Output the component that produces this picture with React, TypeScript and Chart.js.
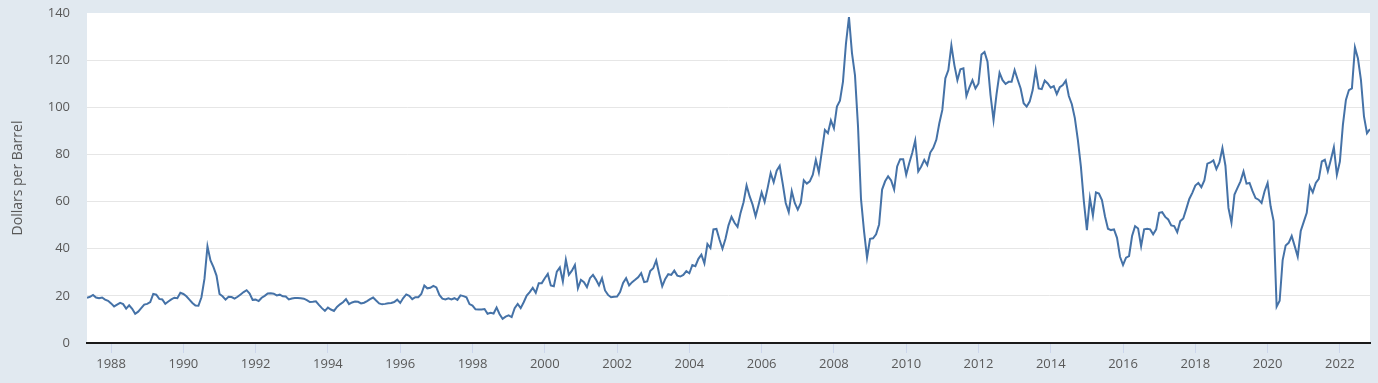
import React, { useEffect, useRef } from 'react';
import { Chart, registerables } from 'chart.js';

Chart.register(...registerables);

// Monthly series, first value = May 1987
const FIRST_YEAR = 1987;
const FIRST_MONTH_INDEX = 4; // May (0-based)

const PRICES_1987_1992 = [
  19.2, 19.6, 20.4, 19.3, 19.0, 19.3, 18.4, 17.9, 16.8, 15.5,
  16.3, 17.0, 16.5, 14.6, 16.0, 14.5, 12.4, 13.3, 14.8, 16.3,
  16.6, 17.4, 20.8, 20.5, 18.7, 18.5, 16.6, 17.6, 18.5, 19.2,
  19.0, 21.3, 20.8, 19.8, 18.4, 17.0, 15.9, 15.8, 19.4, 27.2,
  41.0, 35.0, 32.2, 28.6, 20.8, 19.8, 18.4, 19.6, 19.5, 18.8,
  19.6, 20.6, 21.6, 22.4, 21.0, 18.3, 18.4, 17.8, 19.2, 20.0,
  21.0, 21.1, 20.9, 20.2, 20.5, 19.8, 19.7, 18.5,
];

const PRICES_1993_1997 = [
  18.9, 19.1, 19.1, 19.0, 18.8, 18.2, 17.4, 17.5, 17.7, 16.2,
  14.8, 13.6, 15.0, 14.2, 13.6, 15.3, 16.4, 17.3, 18.6, 16.5,
  17.2, 17.6, 17.5, 16.8, 17.1, 17.8, 18.6, 19.3, 18.0, 16.8,
  16.4, 16.6, 16.9, 17.0, 17.4, 18.4, 17.0, 19.1, 20.6, 20.0,
  18.6, 19.4, 19.4, 20.8, 24.4, 23.2, 23.4, 24.2, 23.6, 20.4,
  18.8, 18.5, 19.0, 18.5, 19.0, 18.3, 20.2, 19.9, 19.4, 16.5,
];

const PRICES_1998_2002 = [
  15.9, 14.3, 14.2, 14.2, 14.4, 12.4, 12.8, 12.5, 15.0, 12.2,
  10.3, 11.2, 11.7, 11.0, 14.8, 16.6, 14.8, 17.3, 20.1, 21.6,
  23.4, 21.3, 25.4, 25.4, 27.5, 29.3, 24.4, 24.1, 30.3, 32.1,
  26.1, 35.3, 28.9, 30.7, 33.1, 23.2, 26.8, 25.8, 23.7, 27.5,
  28.9, 26.9, 24.4, 27.5, 22.3, 20.4, 19.4, 19.6, 19.7, 21.6,
  25.5, 27.5, 24.4, 25.8, 26.8, 27.9, 29.6, 25.8, 26.1, 30.5,
];

const PRICES_2003_2007 = [
  31.7, 35.0, 29.3, 24.1, 27.2, 29.2, 28.9, 30.7, 28.6, 28.2,
  28.9, 30.5, 29.6, 33.1, 32.6, 35.7, 37.5, 33.8, 42.0, 40.3,
  48.2, 48.4, 43.9, 40.0, 44.2, 49.9, 53.5, 51.0, 49.3, 55.2,
  59.7, 66.8, 62.3, 58.7, 53.8, 58.7, 63.9, 59.9, 65.8, 72.1,
  68.2, 73.1, 75.2, 67.6, 59.4, 55.5, 64.4, 59.4, 56.6, 59.4,
  69.0, 67.6, 68.6, 71.4, 77.7, 72.4, 81.3, 90.4, 89.0, 94.4,
];

const PRICES_2008_2012 = [
  91.1, 100.3, 102.8, 110.8, 127.0, 138.3, 123.0, 113.5, 92.0, 61.0,
  47.5, 36.2, 44.2, 44.4, 46.1, 50.3, 65.1, 68.6, 70.7, 69.0,
  65.1, 74.9, 78.0, 78.0, 71.4, 76.3, 80.6, 85.9, 72.8, 74.9,
  77.7, 75.5, 80.8, 82.8, 86.2, 93.2, 98.9, 112.3, 115.8, 126.3,
  117.9, 111.5, 116.1, 116.5, 104.8, 108.5, 111.5, 108.0, 110.1, 122.4,
  123.5, 119.3, 105.2, 94.6, 105.6, 114.6, 111.5, 109.9, 110.8, 110.8,
];

const PRICES_2013_2017 = [
  115.8, 111.8, 108.0, 101.7, 100.3, 102.4, 107.3, 115.8, 108.0, 107.7,
  111.3, 110.1, 108.3, 109.0, 105.6, 108.5, 109.4, 111.3, 104.8, 101.3,
  95.4, 86.2, 74.9, 60.0, 47.9, 61.5, 54.1, 63.9, 63.4, 60.6,
  53.8, 48.5, 47.9, 48.2, 44.6, 36.6, 33.1, 36.2, 36.9, 45.4,
  49.6, 48.6, 41.1, 48.2, 48.5, 48.2, 46.1, 48.2, 55.2, 55.5,
  53.5, 52.4, 49.9, 49.6, 47.0, 51.7, 52.8, 56.9, 61.1, 63.7,
];

const PRICES_2018_2022 = [
  66.8, 67.9, 66.1, 69.0, 76.1, 76.6, 77.5, 73.8, 76.6, 82.7,
  75.2, 57.3, 51.0, 63.0, 65.8, 68.6, 72.8, 67.6, 67.9, 64.4,
  61.5, 60.8, 59.4, 64.4, 67.9, 58.0, 51.7, 15.4, 17.9, 35.2,
  41.4, 42.5, 45.4, 41.1, 36.6, 47.5, 51.4, 55.2, 66.5, 63.9,
  67.9, 69.6, 77.0, 77.7, 72.8, 77.7, 83.0, 71.4, 77.0, 92.5,
  103.1, 107.3, 108.0, 125.4, 120.7, 111.5, 96.1, 89.0, 90.7,
];

const PRICES: number[] = [
  ...PRICES_1987_1992,
  ...PRICES_1993_1997,
  ...PRICES_1998_2002,
  ...PRICES_2003_2007,
  ...PRICES_2008_2012,
  ...PRICES_2013_2017,
  ...PRICES_2018_2022,
];

const Y_TICKS = [0, 20, 40, 60, 80, 100, 120, 140];
const X_TICK_YEARS = [
  1988, 1990, 1992, 1994, 1996, 1998, 2000, 2002, 2004,
  2006, 2008, 2010, 2012, 2014, 2016, 2018, 2020, 2022,
];
const Y_AXIS_TITLE = 'Dollars per Barrel';

const TEXT_COLOR = '#595959';
const LINE_COLOR = '#4572a7';
const BG_COLOR = '#e1e9f0';
const FONT = 'Open Sans';

export default function App() {
  const ref = useRef<HTMLCanvasElement | null>(null);

  useEffect(() => {
    if (!ref.current) return;
    const points = PRICES.map((v, i) => ({
      x: FIRST_YEAR + (FIRST_MONTH_INDEX + i) / 12,
      y: v,
    }));
    const xMin = FIRST_YEAR + FIRST_MONTH_INDEX / 12;
    const xMax = FIRST_YEAR + (FIRST_MONTH_INDEX + PRICES.length - 1) / 12;

    const plotBg = {
      id: 'plotBg',
      beforeDraw(c: any) {
        const { ctx, chartArea: a } = c;
        ctx.save();
        ctx.fillStyle = '#ffffff';
        ctx.fillRect(a.left, a.top, a.right - a.left, a.bottom - a.top);
        ctx.restore();
      },
    };

    const chart = new Chart(ref.current, {
      type: 'line',
      data: {
        datasets: [
          {
            data: points,
            borderColor: LINE_COLOR,
            borderWidth: 2,
            pointRadius: 0,
            tension: 0,
            fill: false,
          },
        ],
      },
      options: {
        animation: false,
        responsive: false,
        maintainAspectRatio: false,
        layout: { padding: { top: 13, right: 8, left: 0, bottom: 0 } },
        plugins: {
          legend: { display: false },
          tooltip: { enabled: false },
        },
        scales: {
          x: {
            type: 'linear',
            min: xMin,
            max: xMax,
            afterBuildTicks: (s: any) => {
              s.ticks = X_TICK_YEARS.map((v) => ({ value: v }));
            },
            afterFit: (s: any) => {
              s.height = 40;
              s.paddingLeft = 0;
              s.paddingRight = 0;
            },
            grid: {
              drawOnChartArea: false,
              drawTicks: true,
              tickLength: 10,
              color: '#ccd6eb',
              lineWidth: 1,
            },
            border: { display: true, color: '#1a1a1a', width: 2 },
            ticks: {
              color: TEXT_COLOR,
              font: { family: FONT, size: 13 },
              padding: 3,
              maxRotation: 0,
              autoSkip: false,
              callback: (v: any) => String(v),
            },
          },
          y: {
            min: 0,
            max: 140,
            afterBuildTicks: (s: any) => {
              s.ticks = Y_TICKS.map((v) => ({ value: v }));
            },
            afterFit: (s: any) => {
              s.width = 87;
              s.paddingTop = 0;
              s.paddingBottom = 0;
            },
            grid: {
              color: (ctx: any) =>
                ctx.tick && ctx.tick.value === 140 ? 'rgba(0,0,0,0)' : '#e6e6e6',
              drawTicks: false,
              lineWidth: 1,
            },
            border: { display: false },
            ticks: {
              color: TEXT_COLOR,
              font: { family: FONT, size: 13 },
              padding: 17,
              callback: (v: any) => String(v),
            },
            title: {
              display: true,
              text: Y_AXIS_TITLE,
              color: TEXT_COLOR,
              font: { family: FONT, size: 14 },
              padding: { top: 10, bottom: 0 },
            },
          },
        },
      },
      plugins: [plotBg],
    } as any);

    return () => chart.destroy();
  }, []);

  return (
    <div
      style={{
        position: 'absolute',
        left: 0,
        top: 0,
        width: 1378,
        height: 383,
        background: BG_COLOR,
      }}
    >
      <canvas
        ref={ref}
        width={1378}
        height={383}
        style={{ display: 'block', width: 1378, height: 383 }}
      />
    </div>
  );
}
